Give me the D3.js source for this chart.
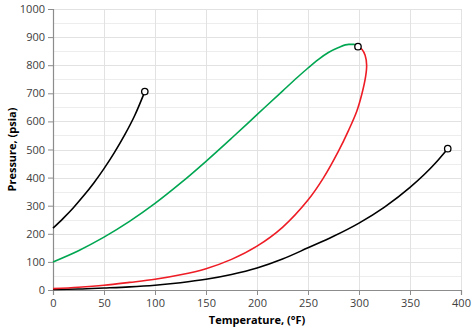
<!DOCTYPE html>
<html><head><meta charset="utf-8">
<script src="https://cdnjs.cloudflare.com/ajax/libs/d3/7.8.5/d3.min.js"></script>
<style>body{margin:0;background:#fff}svg{display:block}</style>
</head><body><svg id="c" width="474" height="330"></svg>
<script>
const xTicks = [0,50,100,150,200,250,300,350,400];
const yTicks = [0,100,200,300,400,500,600,700,800,900,1000];
const yMinor = [50,150,250,350,450,550,650,750,850,950];

const ethaneT = [0,10,20,30,40,50,60,70,80,90];
const ethaneP = [220,255,293,335,381,432,488,550,620,706];

const pentaneT = [0,25,50,75,100,125,150,175,200,225,250,275,300,325,350,375,387];
const pentaneP = [2,3.5,7,11,17,26,38,55,78,110,150,191,238,295,365,452,503];

const bubbleT = [0,25,50,75,100,125,150,175,200,225,240,250,260,270,280,290,295,299];
const bubbleP = [100,140,188,244,308,380,458,540,624,708,758,790,820,845,863,874,874,866];

const dewT = [0,25,50,75,100,125,150,175,200,225,250,265,280,290,298,303,306.5,307.5,306,303,299];
const dewP = [5,10,17,27,38,54,76,109,156,223,320,398,495,570,638,700,760,800,835,856,866];

const critT = [90,299,387];
const critP = [706,866,503];

const svg = d3.select("#c");
const m = {l:53, r:461, t:9, b:290};
const x = d3.scaleLinear().domain([0,400]).range([m.l,m.r]);
const y = d3.scaleLinear().domain([0,1000]).range([m.b,m.t]);
const font = "'Open Sans', 'Noto Sans', sans-serif";

// gridlines
const g = svg.append("g");
g.selectAll(".ym").data(yMinor).join("line")
  .attr("x1",m.l).attr("x2",m.r).attr("y1",d=>Math.round(y(d))+0.5).attr("y2",d=>Math.round(y(d))+0.5)
  .attr("stroke","#ededed").attr("stroke-width",1);
g.selectAll(".yM").data(yTicks.slice(1)).join("line")
  .attr("x1",m.l).attr("x2",m.r).attr("y1",d=>Math.round(y(d))+0.5).attr("y2",d=>Math.round(y(d))+0.5)
  .attr("stroke","#e2e2e2").attr("stroke-width",1);
g.selectAll(".xM").data(xTicks.slice(1)).join("line")
  .attr("x1",d=>Math.round(x(d))+0.5).attr("x2",d=>Math.round(x(d))+0.5).attr("y1",m.t).attr("y2",m.b)
  .attr("stroke","#e2e2e2").attr("stroke-width",1);

// axes
const xa = svg.append("g").attr("transform",`translate(0,${m.b})`)
  .call(d3.axisBottom(x).tickValues(xTicks).tickSize(5).tickPadding(4).tickFormat(d3.format("d")));
const ya = svg.append("g").attr("transform",`translate(${m.l},0)`)
  .call(d3.axisLeft(y).tickValues(yTicks).tickSize(5).tickPadding(3).tickFormat(d3.format("d")));
[xa,ya].forEach(a=>{
  a.select(".domain").attr("stroke","#8c8c8c").attr("stroke-width",1.2);
  a.selectAll(".tick line").attr("stroke","#8c8c8c");
  a.selectAll("text").attr("font-family",font).attr("font-size",11).attr("fill","#404040");
});

const lineX = d3.line().x(d=>x(d[0])).y(d=>y(d[1])).curve(d3.curveMonotoneX);
const lineC = d3.line().x(d=>x(d[0])).y(d=>y(d[1])).curve(d3.curveCatmullRom.alpha(0.5));
function draw(T,P,color,gen){
  svg.append("path").datum(T.map((t,i)=>[t,P[i]]))
    .attr("d",gen).attr("fill","none").attr("stroke",color).attr("stroke-width",1.6);
}
draw(ethaneT,ethaneP,"#000",lineX);
draw(pentaneT,pentaneP,"#000",lineX);
draw(dewT,dewP,"#ee1c25",lineC);
draw(bubbleT,bubbleP,"#00a651",lineX);

svg.selectAll(".crit").data(critT.map((t,i)=>[t,critP[i]])).join("circle")
  .attr("cx",d=>x(d[0])).attr("cy",d=>y(d[1])).attr("r",3.2)
  .attr("fill","#fff").attr("stroke","#000").attr("stroke-width",1.3);

svg.append("text").attr("x",(m.l+m.r)/2).attr("y",324).attr("text-anchor","middle")
  .attr("font-family",font).attr("font-size",11).attr("font-weight","bold").attr("fill","#000")
  .text("Temperature, (°F)");
svg.append("text").attr("transform",`translate(16,${(m.t+m.b)/2}) rotate(-90)`).attr("text-anchor","middle")
  .attr("font-family",font).attr("font-size",11).attr("font-weight","bold").attr("fill","#000")
  .text("Pressure, (psia)");
</script></body></html>
